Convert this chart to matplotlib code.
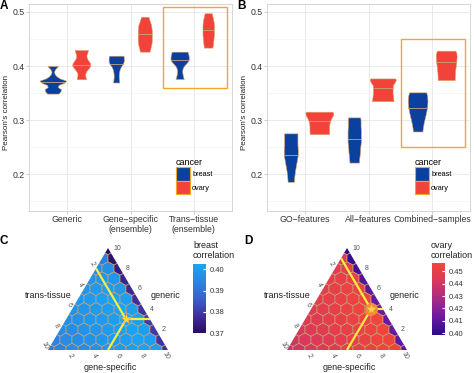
import numpy as np
import matplotlib
matplotlib.use("Agg")
import matplotlib.pyplot as plt
from matplotlib.patches import Patch, Polygon, Rectangle
from matplotlib.colors import LinearSegmentedColormap
from matplotlib.ticker import FormatStrFormatter

plt.rcParams['font.family'] = ['Liberation Sans', 'DejaVu Sans']

# ---------------- data: violins (y profile, full width in category units, median) ----------------
a_cats = ["Generic", "Gene\u2212specific\n(ensemble)", "Trans\u2212tissue\n(ensemble)"]
b_cats = ["GO\u2212features", "All\u2212features", "Combined\u2212samples"]

a_breast_y = [[0.349, 0.353, 0.357, 0.361, 0.365, 0.369, 0.373, 0.377, 0.381, 0.385, 0.389, 0.393, 0.397, 0.400],
              [0.3695, 0.374, 0.379, 0.384, 0.389, 0.394, 0.399, 0.404, 0.409, 0.414, 0.419],
              [0.376, 0.380, 0.385, 0.390, 0.395, 0.400, 0.405, 0.410, 0.415, 0.420, 0.4265]]
a_breast_w = [[0.18, 0.24, 0.26, 0.16, 0.18, 0.36, 0.42, 0.22, 0.12, 0.06, 0.04, 0.06, 0.12, 0.17],
              [0.10, 0.09, 0.08, 0.08, 0.09, 0.11, 0.15, 0.21, 0.24, 0.24, 0.23],
              [0.13, 0.11, 0.09, 0.08, 0.09, 0.13, 0.21, 0.28, 0.29, 0.28, 0.25]]
a_breast_med = [0.370, 0.403, 0.411]

a_ovary_y = [[0.3755, 0.380, 0.385, 0.390, 0.395, 0.400, 0.405, 0.410, 0.415, 0.420, 0.425, 0.4295],
             [0.4265, 0.431, 0.436, 0.441, 0.446, 0.451, 0.456, 0.461, 0.466, 0.471, 0.476, 0.481, 0.486, 0.491],
             [0.434, 0.440, 0.446, 0.452, 0.458, 0.464, 0.470, 0.476, 0.482, 0.488, 0.493, 0.4975]]
a_ovary_w = [[0.15, 0.13, 0.12, 0.15, 0.22, 0.28, 0.28, 0.22, 0.17, 0.16, 0.19, 0.21],
             [0.15, 0.17, 0.19, 0.21, 0.22, 0.22, 0.22, 0.22, 0.22, 0.21, 0.20, 0.17, 0.14, 0.12],
             [0.13, 0.15, 0.16, 0.17, 0.18, 0.18, 0.18, 0.18, 0.17, 0.15, 0.13, 0.11]]
a_ovary_med = [0.402, 0.459, 0.4665]

b_breast_y = [[0.186, 0.195, 0.205, 0.215, 0.225, 0.235, 0.245, 0.255, 0.265, 0.2755],
              [0.2215, 0.230, 0.240, 0.250, 0.260, 0.270, 0.280, 0.290, 0.300, 0.305],
              [0.279, 0.285, 0.295, 0.305, 0.315, 0.325, 0.335, 0.345, 0.3513]]
b_breast_w = [[0.10, 0.11, 0.13, 0.16, 0.19, 0.22, 0.22, 0.21, 0.21, 0.21],
              [0.15, 0.16, 0.18, 0.19, 0.21, 0.21, 0.21, 0.20, 0.20, 0.19],
              [0.15, 0.16, 0.19, 0.23, 0.27, 0.30, 0.31, 0.30, 0.27]]
b_breast_med = [0.2355, 0.2645, 0.322]

b_ovary_y = [[0.274, 0.279, 0.284, 0.289, 0.294, 0.299, 0.304, 0.309, 0.313, 0.3155],
             [0.335, 0.340, 0.345, 0.350, 0.355, 0.360, 0.365, 0.370, 0.374, 0.377],
             [0.374, 0.380, 0.390, 0.400, 0.410, 0.418, 0.424, 0.4283]]
b_ovary_w = [[0.30, 0.31, 0.31, 0.31, 0.32, 0.34, 0.38, 0.43, 0.44, 0.42],
             [0.34, 0.33, 0.32, 0.31, 0.31, 0.31, 0.32, 0.38, 0.41, 0.40],
             [0.27, 0.27, 0.28, 0.30, 0.32, 0.33, 0.32, 0.29]]
b_ovary_med = [0.299, 0.3585, 0.4065]

box_a_y = (0.359, 0.509)
box_b_y = (0.250, 0.449)

# ---------------- data: ternary grids, rows by generic weight g=0..10, columns gene-specific s=0..10-g ----------------
breast_corr = [
    [0.392, 0.394, 0.396, 0.397, 0.398, 0.399, 0.400, 0.401, 0.402, 0.401, 0.378],
    [0.394, 0.396, 0.397, 0.398, 0.399, 0.400, 0.401, 0.402, 0.401, 0.379],
    [0.396, 0.397, 0.398, 0.399, 0.400, 0.401, 0.402, 0.401, 0.380],
    [0.397, 0.398, 0.399, 0.400, 0.401, 0.4025, 0.401, 0.380],
    [0.398, 0.399, 0.400, 0.401, 0.402, 0.401, 0.379],
    [0.399, 0.400, 0.401, 0.402, 0.401, 0.378],
    [0.399, 0.400, 0.401, 0.400, 0.377],
    [0.398, 0.399, 0.399, 0.376],
    [0.396, 0.397, 0.374],
    [0.393, 0.372],
    [0.370],
]
ovary_corr = [
    [0.437, 0.440, 0.442, 0.444, 0.446, 0.448, 0.450, 0.452, 0.454, 0.455, 0.410],
    [0.440, 0.442, 0.444, 0.446, 0.448, 0.450, 0.452, 0.454, 0.455, 0.411],
    [0.442, 0.444, 0.446, 0.448, 0.450, 0.452, 0.454, 0.456, 0.412],
    [0.444, 0.446, 0.448, 0.450, 0.452, 0.454, 0.456, 0.413],
    [0.446, 0.448, 0.450, 0.452, 0.454, 0.4567, 0.413],
    [0.447, 0.449, 0.451, 0.453, 0.455, 0.412],
    [0.448, 0.450, 0.452, 0.453, 0.410],
    [0.448, 0.450, 0.451, 0.408],
    [0.447, 0.448, 0.405],
    [0.444, 0.402],
    [0.3986],
]
best_breast = (3, 5, 2)   # generic, gene-specific, trans-tissue
best_ovary = (4, 5, 1)
tick_vals = [2, 4, 6, 8, 10]

# ---------------- styles ----------------
blue = '#0C409F'
red = '#F2433A'
orange = '#F5A52A'
outline = '#D9A060'
W, H = 474, 373
fig = plt.figure(figsize=(W / 100, H / 100), dpi=100)


def px_axes(left, top, right, bottom):
    return fig.add_axes([left / W, 1 - bottom / H, (right - left) / W, (bottom - top) / H])


def violin_panel(ax, cats, series, box_y, leg_x):
    dodge = [-0.225, 0.225]
    for k, (ys, ws, meds, col) in enumerate(series):
        for i in range(len(cats)):
            c = i + 1 + dodge[k]
            y = np.array(ys[i])
            w = np.array(ws[i])
            ax.fill_betweenx(y, c - w / 2, c + w / 2, facecolor=col, edgecolor=outline, lw=0.4, zorder=3)
            wm = np.interp(meds[i], y, w)
            ax.plot([c - wm / 2, c + wm / 2], [meds[i], meds[i]], color='#C9A27A', lw=0.6, zorder=4)
    ax.add_patch(Rectangle((2.51, box_y[0]), 1.01, box_y[1] - box_y[0], fill=False,
                           edgecolor=orange, lw=1.0, zorder=5))
    ax.set_xlim(0.4, 3.6)
    ax.set_ylim(0.132, 0.5146)
    ax.set_xticks([1, 2, 3])
    ax.set_xticklabels(cats, linespacing=1.1)
    ax.set_yticks([0.2, 0.3, 0.4, 0.5])
    ax.set_yticklabels(['0.2', '0.3', '0.4', '0.5'])
    ax.set_yticks([0.15, 0.25, 0.35, 0.45], minor=True)
    ax.grid(which='major', color='#E6E6E6', lw=0.6)
    ax.grid(which='minor', axis='y', color='#F2F2F2', lw=0.4)
    ax.set_axisbelow(True)
    for s in ax.spines.values():
        s.set_color('#CFCFCF')
        s.set_linewidth(0.6)
    ax.tick_params(length=2, color='#CFCFCF', labelsize=6.3, pad=1.2, labelcolor='#333333')
    ax.tick_params(which='minor', length=0)
    handles = [Patch(facecolor=blue, edgecolor=orange, lw=0.8, label='breast'),
               Patch(facecolor=red, edgecolor=orange, lw=0.8, label='ovary')]
    ax.legend(handles=handles, title='cancer', loc='upper left', bbox_to_anchor=(leg_x, 0.255),
              frameon=False, fontsize=5.3, title_fontsize=6.5, handlelength=1.9, handleheight=2.4,
              handletextpad=0.3, labelspacing=0.02, borderaxespad=0, borderpad=0, alignment='left')


ax_a = px_axes(29, 4, 232, 211)
violin_panel(ax_a, a_cats, [(a_breast_y, a_breast_w, a_breast_med, blue),
                            (a_ovary_y, a_ovary_w, a_ovary_med, red)], box_a_y, 0.724)
ax_b = px_axes(267, 4, 470, 211)
violin_panel(ax_b, b_cats, [(b_breast_y, b_breast_w, b_breast_med, blue),
                            (b_ovary_y, b_ovary_w, b_ovary_med, red)], box_b_y, 0.729)
for xpx in (6.5, 245):
    fig.text(xpx / W, 1 - 112 / H, "Pearson's correlation", rotation=90, ha='center', va='center',
             fontsize=5.8, color='#222222')

# ---------------- ternary panels ----------------
sq3 = np.sqrt(3)


def tern_xy(g, s):
    return s + g / 2, g * sq3 / 2


def ternary_panel(ax, table, best, cmap, halo):
    xs, ys, vs = [], [], []
    for g, row in enumerate(table):
        for s, v in enumerate(row):
            x, y = tern_xy(g, s)
            xs.append(x)
            ys.append(y)
            vs.append(v)
    hb = ax.hexbin(xs, ys, C=vs, gridsize=(10, 5), extent=(0, 10, 0, 5 * sq3), cmap=cmap,
                   reduce_C_function=np.mean, edgecolors='#C8A070', linewidths=0.5, zorder=1)
    tri = Polygon([[0, 0], [10, 0], [5, 5 * sq3]], closed=True, transform=ax.transData)
    hb.set_clip_path(tri)
    g0, s0, t0 = best
    star = tern_xy(g0, s0)
    for end in (tern_xy(10 - t0, 0), tern_xy(g0, 10 - g0), tern_xy(0, s0)):
        ax.plot([star[0], end[0]], [star[1], end[1]], color='#F2EE45', lw=1.6, zorder=3,
                solid_capstyle='butt')
    if halo:
        ax.plot(*star, marker='o', ms=8, color='#F58A35', zorder=4)
    ax.plot(*star, marker='*', ms=8, color='#F8D550', mec='#F0A030', mew=0.4, zorder=5)
    tc = '#555555'
    for v in tick_vals:
        x, y = tern_xy(v, 10 - v)          # right edge, generic
        ax.text(x + 0.45, y, str(v), fontsize=5, color=tc, ha='left', va='center')
        x, y = tern_xy(10 - v, 0)          # left edge, trans-tissue
        ax.text(x - 0.3, y + 0.35, str(v), fontsize=5, color=tc, ha='center', va='center',
                rotation=-60, rotation_mode='anchor')
        x, y = tern_xy(0, v)               # bottom edge, gene-specific
        ax.text(x - 0.15, y - 0.5, str(v), fontsize=5, color=tc, ha='center', va='center',
                rotation=-60, rotation_mode='anchor')
    ax.text(0.0, 4.67, 'trans-tissue', fontsize=6.5, ha='center', va='center', color='#222222')
    ax.text(9.75, 4.67, 'generic', fontsize=6.5, ha='center', va='center', color='#222222')
    ax.text(5.17, -1.5, 'gene-specific', fontsize=6.5, ha='center', va='center', color='#222222')
    ax.set_xlim(-4.0, 11.833)
    ax.set_ylim(-1.953, 10.19)
    ax.axis('off')
    return hb


cmap_b = LinearSegmentedColormap.from_list('breast', ['#2B0C5E', '#3E2F9E', '#3C60CC', '#2A86E0', '#1BA3F3'])
cmap_o = LinearSegmentedColormap.from_list('ovary', ['#2A0A8C', '#6A1AA0', '#A82A86', '#D8385C', '#F2453A'])

ax_c = px_axes(0, 230, 190, 373)
hb_c = ternary_panel(ax_c, breast_corr, best_breast, cmap_b, False)
ax_d = px_axes(239, 230, 429, 373)
hb_d = ternary_panel(ax_d, ovary_corr, best_ovary, cmap_o, True)

for hb, (l, t, r, b), ticks, title, tx in [
        (hb_c, (193, 264, 206, 333), [0.37, 0.38, 0.39, 0.40], 'breast\ncorrelation', 193),
        (hb_d, (432, 263, 445, 335), [0.40, 0.41, 0.42, 0.43, 0.44, 0.45], 'ovary\ncorrelation', 431)]:
    cax = px_axes(l, t, r, b)
    cb = fig.colorbar(hb, cax=cax, ticks=ticks)
    cb.outline.set_visible(False)
    cb.ax.yaxis.set_major_formatter(FormatStrFormatter('%.2f'))
    cb.ax.tick_params(length=2, color='white', direction='in', labelsize=5.5, pad=3, labelcolor='#333333')
    fig.text(tx / W, 1 - 241 / H, title, ha='left', va='top', fontsize=6.5, linespacing=1.1, color='#222222')

# panel letters
for lab, xpx, ypx in [('A', 0, 0), ('B', 237, 0), ('C', 0, 235), ('D', 244, 235)]:
    fig.text(xpx / W, 1 - ypx / H, lab, fontsize=8.5, fontweight='bold', ha='left', va='top')

fig.savefig('out.png', dpi=100)
